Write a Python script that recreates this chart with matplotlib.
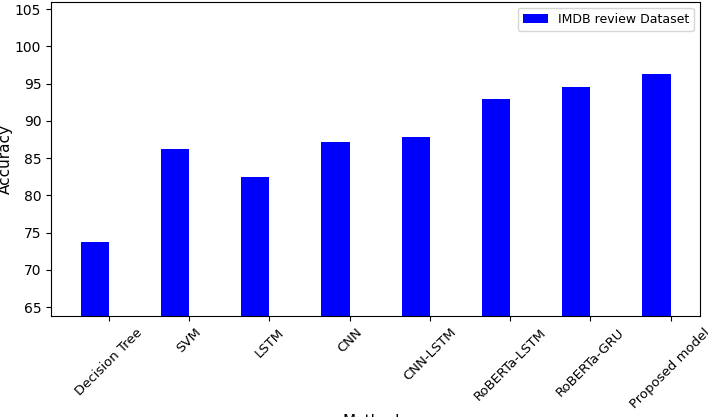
import numpy as np
import matplotlib.pyplot as plt

methods = ["Decision Tree", "SVM", "LSTM", "CNN", "CNN-LSTM",
           "RoBERTa-LSTM", "RoBERTa-GRU", "Proposed model"]
accuracy = [73.8, 86.2, 82.5, 87.1, 87.9, 92.9, 94.6, 96.3]

fig = plt.figure(figsize=(7.08, 4.17), dpi=100)
ax = fig.add_axes([0.072, 0.242, 0.917, 0.754])

x = np.arange(len(methods))
ax.bar(x, accuracy, width=-0.35, align="edge", color="blue", label="IMDB review Dataset")

ax.set_xticks(x)
ax.set_xticklabels(methods, rotation=45, fontsize=9.5)
ax.set_xlim(-0.72, 7.37)
ax.set_ylim(63.8, 106)
ax.set_yticks(range(65, 106, 5))
ax.tick_params(axis="y", labelsize=10)
ax.set_xlabel("Methods", fontsize=11, labelpad=2)
ax.set_ylabel("Accuracy", fontsize=11, labelpad=4)
ax.yaxis.set_label_coords(-0.058, 0.5)
ax.legend(loc="upper right", fontsize=9)

plt.savefig("out.png")
